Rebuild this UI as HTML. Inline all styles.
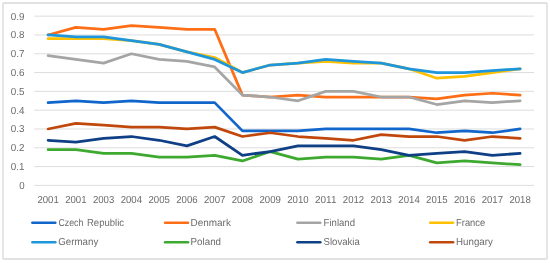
<!DOCTYPE html>
<html><head><meta charset="utf-8"><title>Chart</title>
<style>html,body{margin:0;padding:0;background:#fff;overflow:hidden}svg{display:block}text{font-family:"Liberation Sans",sans-serif;font-size:10.2px;fill:#6b6b6b;text-rendering:geometricPrecision}text.lg{font-size:10.1px}</style></head><body>
<svg width="550" height="263" viewBox="0 0 550 263">
<rect x="0" y="0" width="550" height="263" fill="#fff"/>
<rect x="3" y="3" width="544" height="256" rx="0.8" ry="0.8" fill="#fff" stroke="#D9D9D9" stroke-width="1.35"/>
<line x1="34.2" x2="534.0" y1="185.40" y2="185.40" stroke="#D9D9D9" stroke-width="0.9"/>
<text x="24.55" y="188.80" text-anchor="end" textLength="5.4" lengthAdjust="spacingAndGlyphs">0</text>
<line x1="34.2" x2="534.0" y1="166.59" y2="166.59" stroke="#D9D9D9" stroke-width="0.9"/>
<text x="24.55" y="169.99" text-anchor="end" textLength="13.7" lengthAdjust="spacingAndGlyphs">0.1</text>
<line x1="34.2" x2="534.0" y1="147.79" y2="147.79" stroke="#D9D9D9" stroke-width="0.9"/>
<text x="24.55" y="151.19" text-anchor="end" textLength="13.7" lengthAdjust="spacingAndGlyphs">0.2</text>
<line x1="34.2" x2="534.0" y1="128.98" y2="128.98" stroke="#D9D9D9" stroke-width="0.9"/>
<text x="24.55" y="132.38" text-anchor="end" textLength="13.7" lengthAdjust="spacingAndGlyphs">0.3</text>
<line x1="34.2" x2="534.0" y1="110.18" y2="110.18" stroke="#D9D9D9" stroke-width="0.9"/>
<text x="24.55" y="113.58" text-anchor="end" textLength="13.7" lengthAdjust="spacingAndGlyphs">0.4</text>
<line x1="34.2" x2="534.0" y1="91.37" y2="91.37" stroke="#D9D9D9" stroke-width="0.9"/>
<text x="24.55" y="94.77" text-anchor="end" textLength="13.7" lengthAdjust="spacingAndGlyphs">0.5</text>
<line x1="34.2" x2="534.0" y1="72.57" y2="72.57" stroke="#D9D9D9" stroke-width="0.9"/>
<text x="24.55" y="75.97" text-anchor="end" textLength="13.7" lengthAdjust="spacingAndGlyphs">0.6</text>
<line x1="34.2" x2="534.0" y1="53.76" y2="53.76" stroke="#D9D9D9" stroke-width="0.9"/>
<text x="24.55" y="57.16" text-anchor="end" textLength="13.7" lengthAdjust="spacingAndGlyphs">0.7</text>
<line x1="34.2" x2="534.0" y1="34.96" y2="34.96" stroke="#D9D9D9" stroke-width="0.9"/>
<text x="24.55" y="38.36" text-anchor="end" textLength="13.7" lengthAdjust="spacingAndGlyphs">0.8</text>
<line x1="34.2" x2="534.0" y1="16.15" y2="16.15" stroke="#D9D9D9" stroke-width="0.9"/>
<text x="24.55" y="19.55" text-anchor="end" textLength="13.7" lengthAdjust="spacingAndGlyphs">0.9</text>
<text x="48.08" y="202.9" text-anchor="middle" textLength="21.4" lengthAdjust="spacingAndGlyphs">2001</text>
<text x="75.85" y="202.9" text-anchor="middle" textLength="21.4" lengthAdjust="spacingAndGlyphs">2001</text>
<text x="103.62" y="202.9" text-anchor="middle" textLength="21.4" lengthAdjust="spacingAndGlyphs">2003</text>
<text x="131.38" y="202.9" text-anchor="middle" textLength="21.4" lengthAdjust="spacingAndGlyphs">2004</text>
<text x="159.15" y="202.9" text-anchor="middle" textLength="21.4" lengthAdjust="spacingAndGlyphs">2005</text>
<text x="186.92" y="202.9" text-anchor="middle" textLength="21.4" lengthAdjust="spacingAndGlyphs">2006</text>
<text x="214.68" y="202.9" text-anchor="middle" textLength="21.4" lengthAdjust="spacingAndGlyphs">2007</text>
<text x="242.45" y="202.9" text-anchor="middle" textLength="21.4" lengthAdjust="spacingAndGlyphs">2008</text>
<text x="270.22" y="202.9" text-anchor="middle" textLength="21.4" lengthAdjust="spacingAndGlyphs">2009</text>
<text x="297.98" y="202.9" text-anchor="middle" textLength="21.4" lengthAdjust="spacingAndGlyphs">2010</text>
<text x="325.75" y="202.9" text-anchor="middle" textLength="21.4" lengthAdjust="spacingAndGlyphs">2011</text>
<text x="353.52" y="202.9" text-anchor="middle" textLength="21.4" lengthAdjust="spacingAndGlyphs">2012</text>
<text x="381.28" y="202.9" text-anchor="middle" textLength="21.4" lengthAdjust="spacingAndGlyphs">2013</text>
<text x="409.05" y="202.9" text-anchor="middle" textLength="21.4" lengthAdjust="spacingAndGlyphs">2014</text>
<text x="436.82" y="202.9" text-anchor="middle" textLength="21.4" lengthAdjust="spacingAndGlyphs">2015</text>
<text x="464.58" y="202.9" text-anchor="middle" textLength="21.4" lengthAdjust="spacingAndGlyphs">2016</text>
<text x="492.35" y="202.9" text-anchor="middle" textLength="21.4" lengthAdjust="spacingAndGlyphs">2017</text>
<text x="520.12" y="202.9" text-anchor="middle" textLength="21.4" lengthAdjust="spacingAndGlyphs">2018</text>
<polyline points="48.08,102.66 75.85,100.77 103.62,102.66 131.38,100.77 159.15,102.66 186.92,102.66 214.68,102.66 242.45,130.86 270.22,130.86 297.98,130.86 325.75,128.98 353.52,128.98 381.28,128.98 409.05,128.98 436.82,132.74 464.58,130.86 492.35,132.74 520.12,128.98" fill="none" stroke="#1166CC" stroke-width="2.75" stroke-linecap="round" stroke-linejoin="round"/>
<polyline points="48.08,34.96 75.85,27.43 103.62,29.31 131.38,25.55 159.15,27.43 186.92,29.31 214.68,29.31 242.45,95.13 270.22,97.01 297.98,95.13 325.75,97.01 353.52,97.01 381.28,97.01 409.05,97.01 436.82,98.89 464.58,95.13 492.35,93.25 520.12,95.13" fill="none" stroke="#FD6E17" stroke-width="2.75" stroke-linecap="round" stroke-linejoin="round"/>
<polyline points="48.08,55.64 75.85,59.40 103.62,63.16 131.38,53.76 159.15,59.40 186.92,61.28 214.68,66.93 242.45,95.13 270.22,97.01 297.98,100.77 325.75,91.37 353.52,91.37 381.28,97.01 409.05,97.01 436.82,104.54 464.58,100.77 492.35,102.66 520.12,100.77" fill="none" stroke="#A5A5A5" stroke-width="2.75" stroke-linecap="round" stroke-linejoin="round"/>
<polyline points="48.08,38.72 75.85,38.72 103.62,38.72 131.38,40.60 159.15,44.36 186.92,51.88 214.68,57.52 242.45,72.57 270.22,65.04 297.98,63.16 325.75,61.28 353.52,63.16 381.28,63.16 409.05,68.81 436.82,78.21 464.58,76.33 492.35,72.57 520.12,68.81" fill="none" stroke="#FFC000" stroke-width="2.75" stroke-linecap="round" stroke-linejoin="round"/>
<polyline points="48.08,34.96 75.85,36.84 103.62,36.84 131.38,40.60 159.15,44.36 186.92,51.88 214.68,59.40 242.45,72.57 270.22,65.04 297.98,63.16 325.75,59.40 353.52,61.28 381.28,63.16 409.05,68.81 436.82,72.57 464.58,72.57 492.35,70.69 520.12,68.81" fill="none" stroke="#1E96DC" stroke-width="2.75" stroke-linecap="round" stroke-linejoin="round"/>
<polyline points="48.08,149.67 75.85,149.67 103.62,153.43 131.38,153.43 159.15,157.19 186.92,157.19 214.68,155.31 242.45,160.95 270.22,151.55 297.98,159.07 325.75,157.19 353.52,157.19 381.28,159.07 409.05,155.31 436.82,162.83 464.58,160.95 492.35,162.83 520.12,164.71" fill="none" stroke="#3DA92F" stroke-width="2.75" stroke-linecap="round" stroke-linejoin="round"/>
<polyline points="48.08,140.27 75.85,142.15 103.62,138.39 131.38,136.51 159.15,140.27 186.92,145.91 214.68,136.51 242.45,155.31 270.22,151.55 297.98,145.91 325.75,145.91 353.52,145.91 381.28,149.67 409.05,155.31 436.82,153.43 464.58,151.55 492.35,155.31 520.12,153.43" fill="none" stroke="#0F3F85" stroke-width="2.75" stroke-linecap="round" stroke-linejoin="round"/>
<polyline points="48.08,128.98 75.85,123.34 103.62,125.22 131.38,127.10 159.15,127.10 186.92,128.98 214.68,127.10 242.45,136.51 270.22,132.74 297.98,136.51 325.75,138.39 353.52,140.27 381.28,134.62 409.05,136.51 436.82,136.51 464.58,140.27 492.35,136.51 520.12,138.39" fill="none" stroke="#C0480C" stroke-width="2.75" stroke-linecap="round" stroke-linejoin="round"/>
<line x1="32.4" x2="55.3" y1="222.7" y2="222.7" stroke="#1166CC" stroke-width="2.6" stroke-linecap="round"/>
<text class="lg" y="225.9"><tspan x="58.4" textLength="25" lengthAdjust="spacingAndGlyphs">Czech</tspan> <tspan x="87.0" textLength="37" lengthAdjust="spacingAndGlyphs">Republic</tspan></text>
<line x1="165.1" x2="188.0" y1="222.7" y2="222.7" stroke="#FD6E17" stroke-width="2.6" stroke-linecap="round"/>
<text class="lg" x="190.6" y="225.9" textLength="40.3" lengthAdjust="spacingAndGlyphs">Denmark</text>
<line x1="297.4" x2="320.3" y1="222.7" y2="222.7" stroke="#A5A5A5" stroke-width="2.6" stroke-linecap="round"/>
<text class="lg" x="323.6" y="225.9" textLength="31.4" lengthAdjust="spacingAndGlyphs">Finland</text>
<line x1="430.2" x2="453.1" y1="222.7" y2="222.7" stroke="#FFC000" stroke-width="2.6" stroke-linecap="round"/>
<text class="lg" x="456.1" y="225.9" textLength="29.1" lengthAdjust="spacingAndGlyphs">France</text>
<line x1="32.4" x2="55.3" y1="242.3" y2="242.3" stroke="#1E96DC" stroke-width="2.6" stroke-linecap="round"/>
<text class="lg" x="58.3" y="245.3" textLength="40.0" lengthAdjust="spacingAndGlyphs">Germany</text>
<line x1="165.1" x2="188.0" y1="242.3" y2="242.3" stroke="#3DA92F" stroke-width="2.6" stroke-linecap="round"/>
<text class="lg" x="190.6" y="245.3" textLength="30.4" lengthAdjust="spacingAndGlyphs">Poland</text>
<line x1="297.4" x2="320.3" y1="242.3" y2="242.3" stroke="#0F3F85" stroke-width="2.6" stroke-linecap="round"/>
<text class="lg" x="323.6" y="245.3" textLength="36.2" lengthAdjust="spacingAndGlyphs">Slovakia</text>
<line x1="430.2" x2="453.1" y1="242.3" y2="242.3" stroke="#C0480C" stroke-width="2.6" stroke-linecap="round"/>
<text class="lg" x="456.1" y="245.3" textLength="36.7" lengthAdjust="spacingAndGlyphs">Hungary</text>
</svg></body></html>
